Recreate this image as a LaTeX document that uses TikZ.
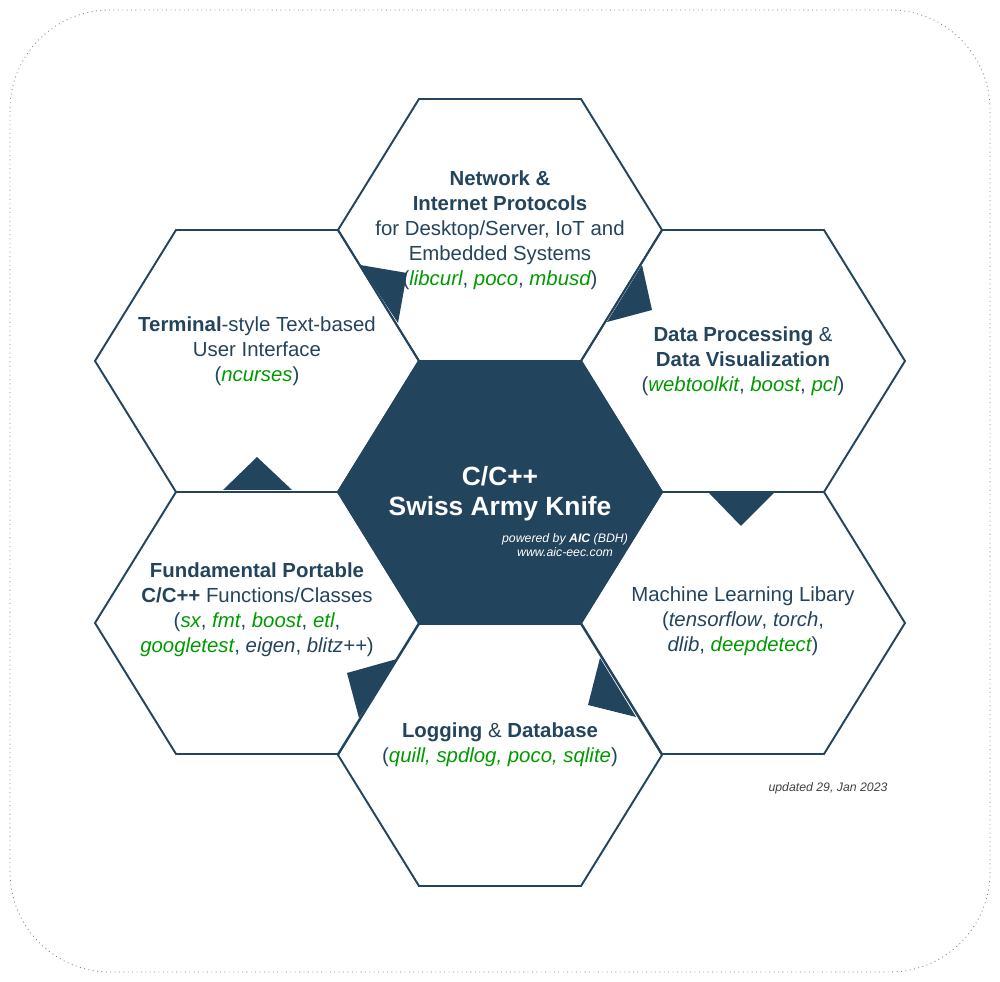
\documentclass[tikz,border=0pt]{standalone}
\usepackage{fontspec}
\setmainfont{Liberation Sans}
\definecolor{navy}{HTML}{23445D}
\definecolor{libgreen}{HTML}{009900}
\newcommand{\lib}[1]{\textcolor{libgreen}{\itshape #1}}
\newcommand{\oth}[1]{{\itshape #1}}
\tikzset{
  hexline/.style={draw=navy, line width=1.1pt, line join=miter},
  pointer/.style={fill=navy},
  topic/.style={align=center, text=navy, font=\fontsize{11.6}{14.2}\selectfont},
}
\newcommand{\hexa}[2]{(#1+3.24,#2) -- (#1+1.62,#2+2.62) -- (#1-1.62,#2+2.62) -- (#1-3.24,#2) -- (#1-1.62,#2-2.62) -- (#1+1.62,#2-2.62) -- cycle}

\begin{document}
\begin{tikzpicture}
  \useasboundingbox (0,0) rectangle (20,19.64);
  \draw[gray, line width=0.5pt, dotted, rounded corners=2cm] (0.2,0.2) rectangle (19.8,19.44);
  % hexagons
  \fill[navy] \hexa{10}{9.8};
  \foreach \cx/\cy in {10/15.04, 5.14/12.42, 14.86/12.42, 5.14/7.18, 14.86/7.18, 10/4.54}
    \draw[hexline] \hexa{\cx}{\cy};
  \draw[hexline] \hexa{10}{9.8};
  % pointers
  \fill[pointer] (7.2,14.34) -- (8.14,14.18) -- (7.96,13.18) -- cycle;
  \fill[pointer] (12.84,14.34) -- (13.04,13.44) -- (12.14,13.2) -- cycle;
  \fill[pointer] (4.46,9.84) -- (5.14,10.5) -- (5.84,9.84) -- cycle;
  \fill[pointer] (14.18,9.78) -- (14.82,9.12) -- (15.48,9.78) -- cycle;
  \fill[pointer] (7.94,6.46) -- (6.94,6.18) -- (7.18,5.28) -- cycle;
  \fill[pointer] (12,6.48) -- (11.76,5.54) -- (12.72,5.3) -- cycle;
  % texts
  \node[topic] (net) at (10,15.04) {\textbf{Network \&}\\ \textbf{Internet Protocols}\\ for Desktop/Server, IoT and\\ Embedded Systems\\ (\lib{libcurl}, \lib{poco}, \lib{mbusd})};
  \node[topic] (tui) at (5.14,12.62) {\textbf{Terminal}-style Text-based\\ User Interface\\ (\lib{ncurses})};
  \node[topic] (data) at (14.86,12.42) {\textbf{Data Processing} \&\\ \textbf{Data Visualization}\\ (\lib{webtoolkit}, \lib{boost}, \lib{pcl})};
  \node[topic] (core) at (5.14,7.44) {\textbf{Fundamental Portable}\\ \textbf{C/C++} Functions/Classes\\ (\lib{sx}, \lib{fmt}, \lib{boost}, \lib{etl},\\ \lib{googletest}, \oth{eigen}, \oth{blitz++})};
  \node[topic] (ml) at (14.86,7.22) {Machine Learning Libary\\ (\oth{tensorflow}, \oth{torch},\\ \oth{dlib}, \lib{deepdetect})};
  \node[topic] (log) at (10,4.74) {\textbf{Logging} \& \textbf{Database}\\ (\lib{quill, spdlog, poco, sqlite})};
  \node[align=center, text=white, font=\bfseries\fontsize{15}{17}\selectfont] (knife) at (10,9.76) {C/C++\\ Swiss Army Knife};
  \node[align=center, text=white, font=\itshape\fontsize{7}{8.4}\selectfont, anchor=north] (aic) at (11.3,9.1) {powered by \textbf{AIC} (BDH)\\ www.aic-eec.com};
  \node[text=black!75, font=\itshape\fontsize{7}{8.4}\selectfont] (upd) at (16.56,3.88) {updated 29, Jan 2023};
\end{tikzpicture}
\end{document}
